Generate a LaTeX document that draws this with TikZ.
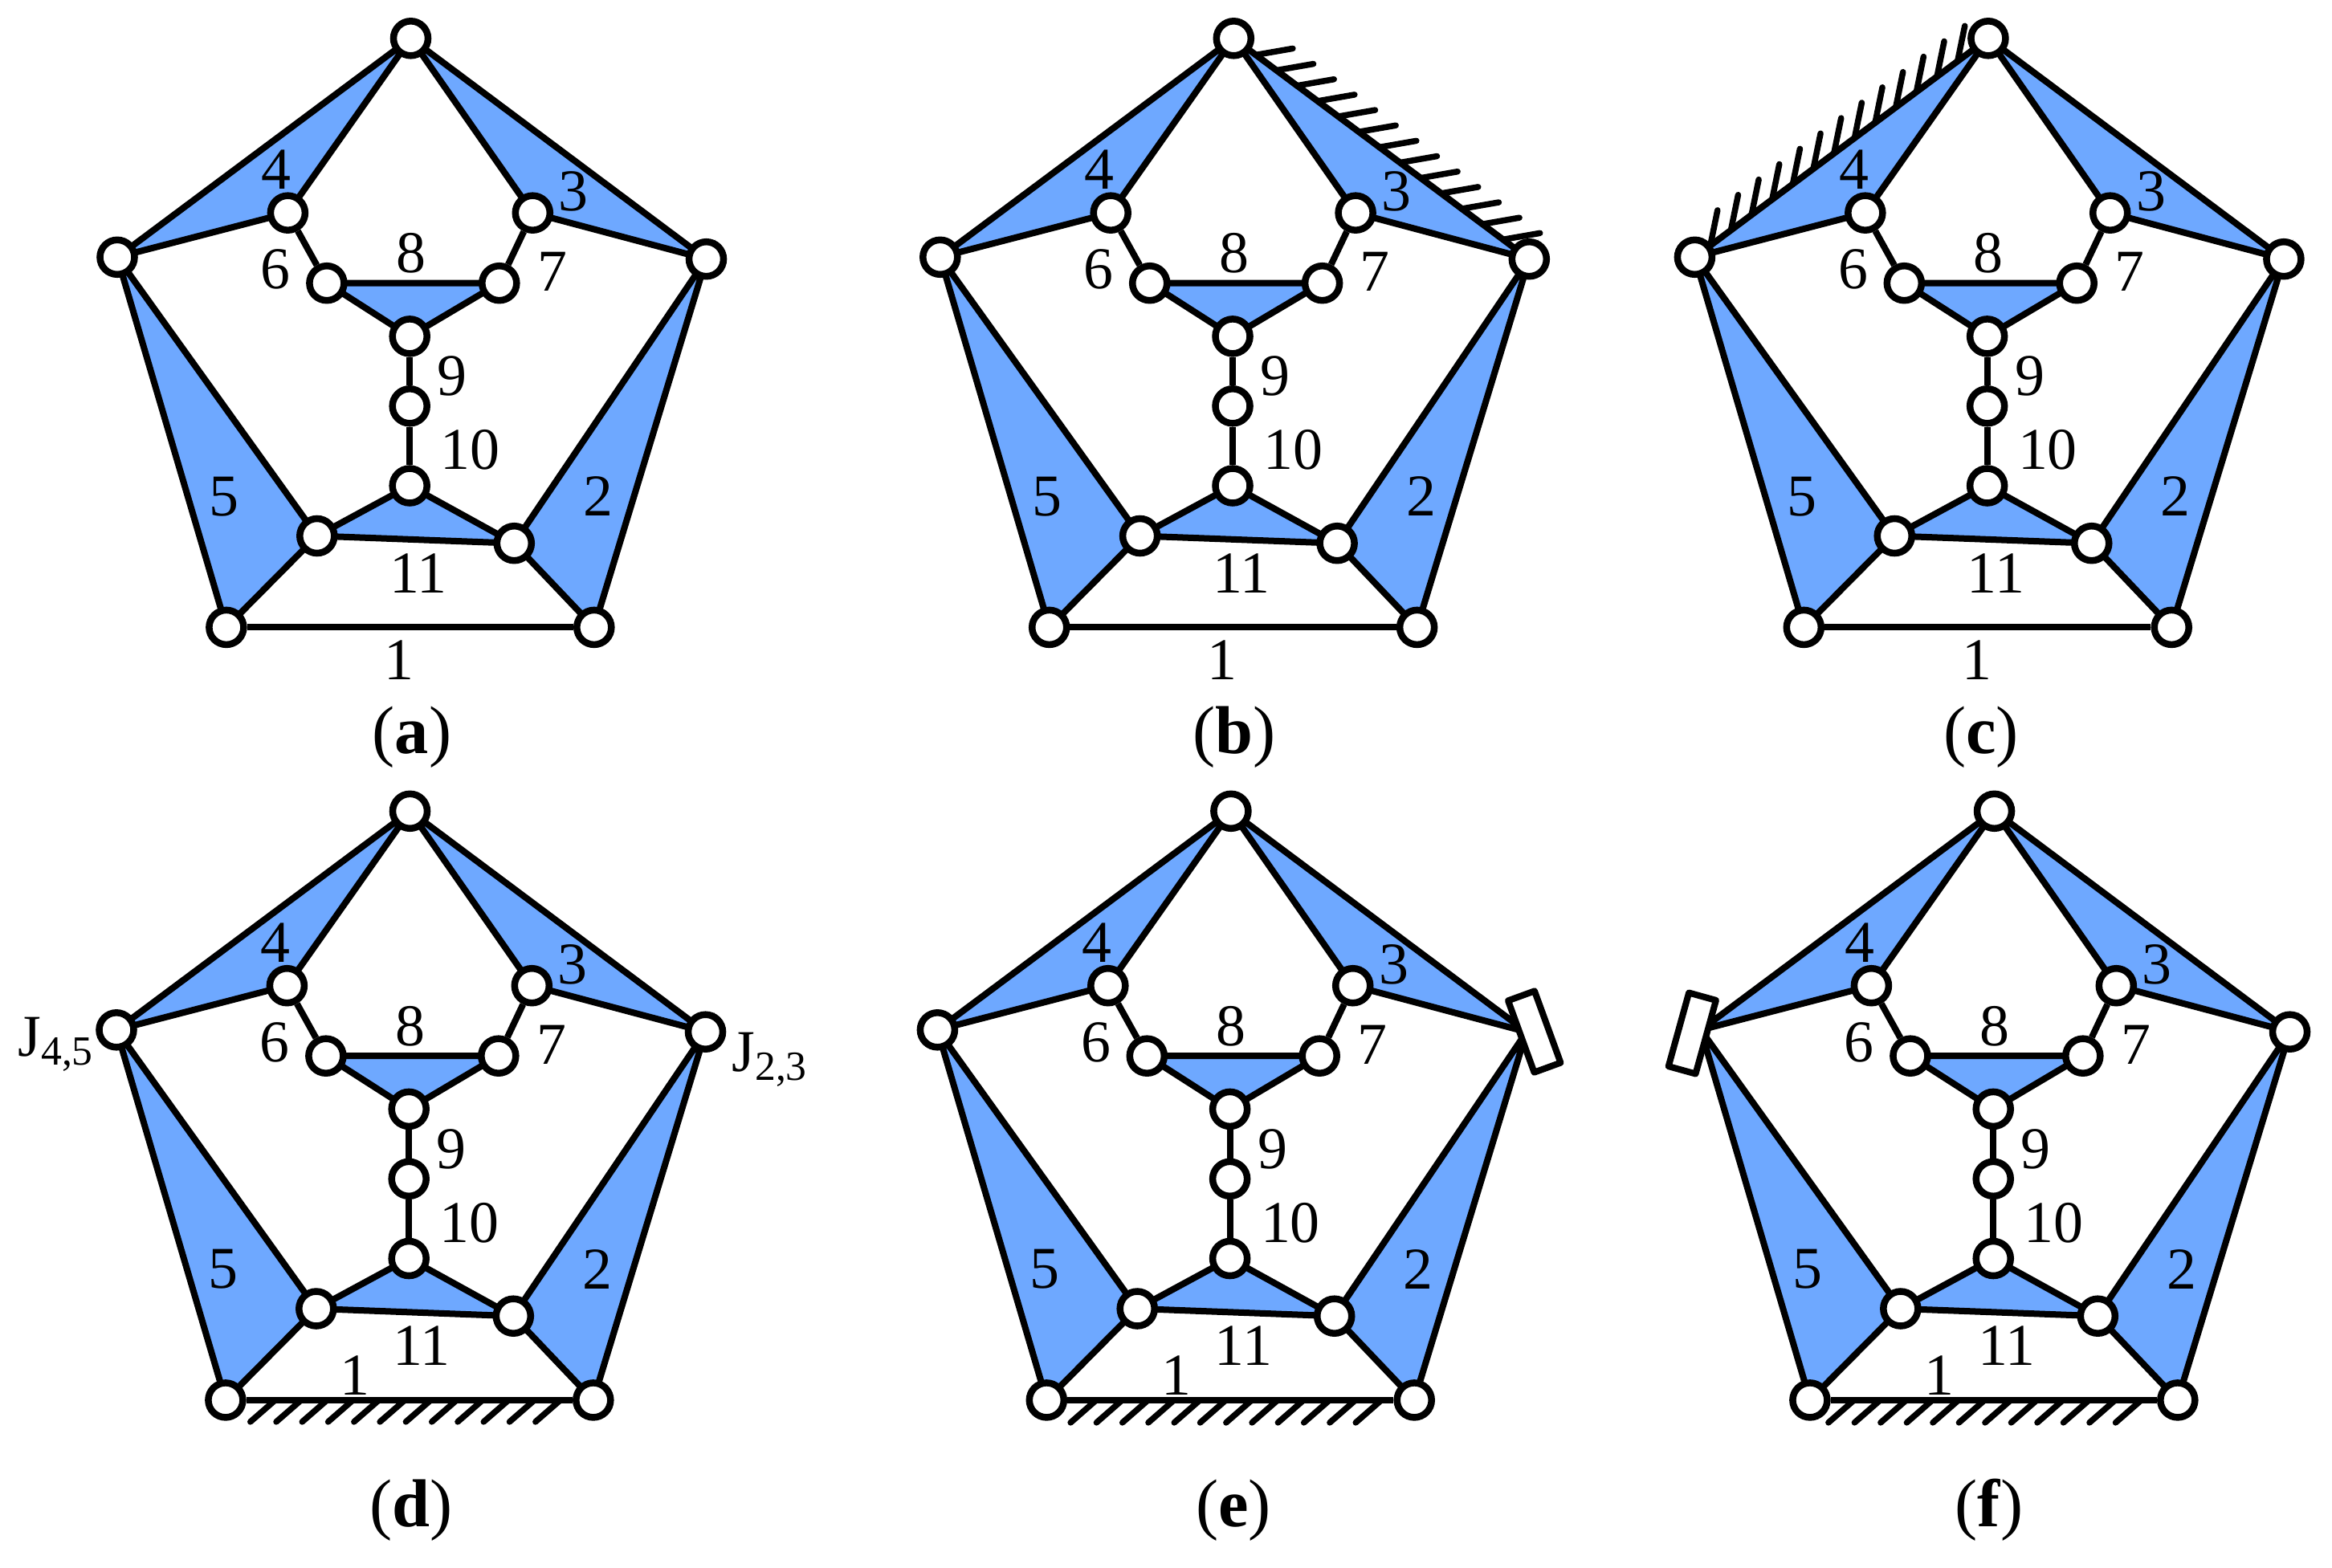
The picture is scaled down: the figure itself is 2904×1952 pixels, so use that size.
\documentclass[tikz,border=0pt]{standalone}
\usepackage{fontspec}
\setmainfont{Liberation Serif}
\usetikzlibrary{calc,backgrounds}
\definecolor{linkblue}{RGB}{110,168,255}

% one linkage: #1 label 1, #2 caption x, #3 caption letter
\newcommand{\pentamech}[3]{
	\node[rnode] (R) at (879.5,322.7) {};
	\node[lnode] (L) at (146,320.3) {};
	\node[main] (T) at (511.5,47.8) {};
	\node[main] (BL) at (281.9,781.4) {};
	\node[main] (BR) at (739.8,781.4) {};
	\node[main] (J4) at (358.4,265.2) {};
	\node[main] (J3) at (663.3,265.2) {};
	\node[main] (J6) at (406.9,352.7) {};
	\node[main] (J7) at (621.8,352.7) {};
	\node[main] (J8) at (510.2,418.9) {};
	\node[main] (J9) at (510.2,505.8) {};
	\node[main] (J10) at (510.2,605) {};
	\node[main] (J11) at (394.8,667.5) {};
	\node[main] (J12) at (640.3,676.7) {};

	\begin{pgfonlayer}{background}
		\draw[link] (T.center) -- (L.center) -- (J4.center) -- cycle;
		\draw[link] (T.center) -- (R.center) -- (J3.center) -- cycle;
		\draw[link] (R.center) -- (BR.center) -- (J12.center) -- cycle;
		\draw[link] (L.center) -- (BL.center) -- (J11.center) -- cycle;
		\draw[link] (J6.center) -- (J7.center) -- (J8.center) -- cycle;
		\draw[link] (J10.center) -- (J11.center) -- (J12.center) -- cycle;
		\draw[bar] (BL) to (BR);
		\draw[bar] (J4) to (J6);
		\draw[bar] (J3) to (J7);
		\draw[bar] (J8) to (J9);
		\draw[bar] (J9) to (J10);
	\end{pgfonlayer}

	\foreach \n/\x/\y in {2/744.9/618.5, 3/714.3/238.8, 4/344.4/211.3, 5/279.3/618.5,
		6/343.1/335.6, 7/687.5/338.6, 8/512/315.4, 9/563.1/468.5, 10/585.5/560.3}
		\node[lab] (n\n) at (\x,\y) {\n};
	\node[lab] (n1) at (#1) {1};
	\node[capt] (cap) at (#2,918.6) {(\textbf{#3})};
}

% ground marks along a line: #1,#2 ends, #3 first t, #4 step, #5 tick, #6 last index
\newcommand{\hatchrow}[6]{
	\begin{pgfonlayer}{background}
		\foreach \i in {0,...,#6}
			\draw[tick] ($(#1)!{#3+\i*#4}!(#2)$) -- ++(#5);
	\end{pgfonlayer}
}

\begin{document}
\begin{tikzpicture}[x=0.01cm, y=-0.01cm,
		main/.style = {draw, circle, fill=white, line width=0.085cm, minimum size=0.43cm, inner sep=0pt},
		rnode/.style = {main},
		lnode/.style = {main},
		link/.style = {draw, fill=linkblue, line width=0.08cm, line join=miter},
		bar/.style = {draw, line width=0.08cm},
		tick/.style = {draw, line width=0.075cm, line cap=round},
		slider/.style = {draw, fill=white, line width=0.08cm, line join=round, inner sep=0pt,
			minimum width=0.35cm, minimum height=0.95cm},
		lab/.style = {inner sep=0pt, font=\fontsize{21}{21}\selectfont},
		capt/.style = {inner sep=0pt, font=\fontsize{24}{24}\selectfont}]

	\useasboundingbox (0,0) rectangle (2904,1952);

	% top row
	\begin{scope}[name prefix=a-]
		\pentamech{497.4,821.8}{513}{a}
		\node[lab] (n11) at (521,714.6) {11};
	\end{scope}

	\begin{scope}[shift={(1024.8,0)}, name prefix=b-]
		\pentamech{497.4,821.8}{512.6}{b}
		\node[lab] (n11) at (521,714.6) {11};
		\hatchrow{T}{R}{0.075}{0.0697}{46,-8}{12}
	\end{scope}

	\begin{scope}[shift={(1964.4,0)}, name prefix=c-]
		\pentamech{497.4,821.8}{502.6}{c}
		\node[lab] (n11) at (521,714.6) {11};
		\hatchrow{L}{T}{0.053}{0.0702}{9,-44}{12}
	\end{scope}

	% bottom row
	\begin{scope}[shift={(-1,962.5)}, name prefix=d-]
		\pentamech{443.2,750.7}{513}{d}
		\node[lab] (n11) at (526,714) {11};
		\hatchrow{BL}{BR}{0.135}{0.0705}{-31,27}{11}
		\node[lab] (j45) at (71,338) {J\textsubscript{4,5}};
		\node[lab] (j23) at (960,357.5) {J\textsubscript{2,3}};
	\end{scope}

	\begin{scope}[shift={(1021.4,962.5)}, name prefix=e-, rnode/.style={coordinate}]
		\pentamech{443.2,750.7}{514.7}{e}
		\node[lab] (n11) at (527,714) {11};
		\hatchrow{BL}{BR}{0.135}{0.0705}{-32,28}{11}
		\node[slider, rotate=20] (S) at (889.3,322.5) {};
	\end{scope}

	\begin{scope}[shift={(1972,962.5)}, name prefix=f-, lnode/.style={coordinate}]
		\pentamech{443.2,750.7}{505}{f}
		\node[lab] (n11) at (527,714) {11};
		\hatchrow{BL}{BR}{0.12}{0.071}{-32,28}{11}
		\node[slider, rotate=-15.5] (S) at (135.3,324.5) {};
	\end{scope}
\end{tikzpicture}
\end{document}
